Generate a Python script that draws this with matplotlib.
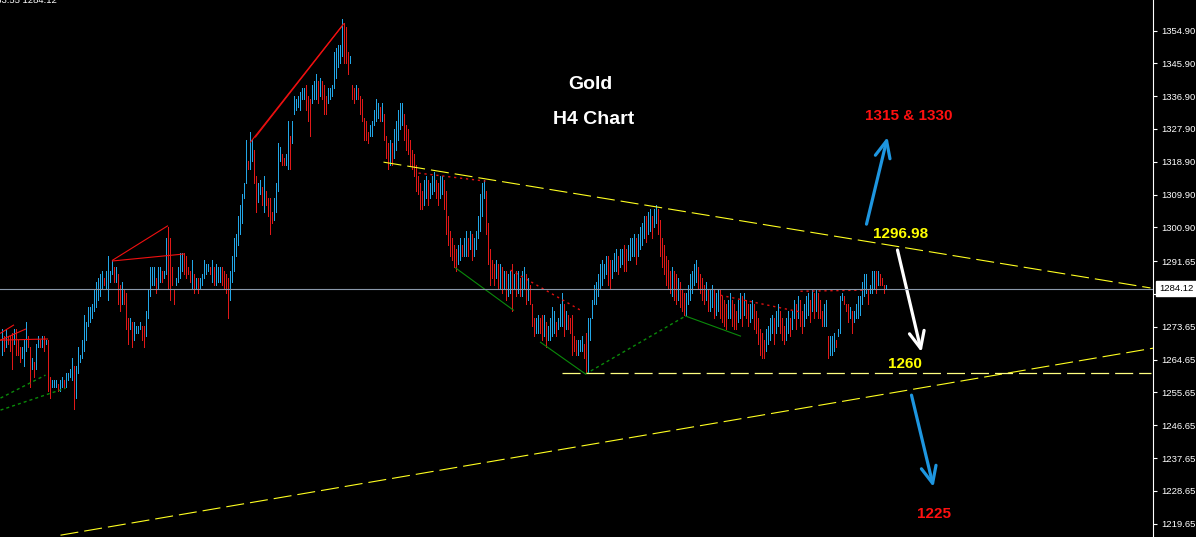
import numpy as np
import matplotlib.pyplot as plt

plt.rcParams['lines.scale_dashes'] = False

# H4 bars, high / low per bar
highs = np.array([
    1273, 1271, 1273, 1271, 1271, 1272, 1273, 1273, 1270, 1268,
    1268, 1270, 1275, 1271, 1268, 1265, 1264, 1269, 1271, 1270,
    1271, 1271, 1270, 1270, 1260, 1259, 1259, 1259, 1258, 1259,
    1260, 1259, 1261, 1261, 1262, 1265, 1263, 1263, 1268, 1266,
    1270, 1277, 1275, 1279, 1279, 1280, 1284, 1286, 1287, 1288,
    1289, 1287, 1289, 1293, 1289, 1292, 1290, 1290, 1288, 1285,
    1286, 1284, 1283, 1276, 1276, 1275, 1275, 1274, 1274, 1275,
    1274, 1274, 1278, 1284, 1290, 1290, 1290, 1287, 1290, 1290,
    1289, 1289, 1298, 1301, 1298, 1290, 1284, 1287, 1290, 1294,
    1294, 1294, 1293, 1290, 1289, 1292, 1288, 1287, 1287, 1287,
    1288, 1292, 1291, 1291, 1290, 1292, 1290, 1291, 1290, 1290,
    1290, 1289, 1288, 1287, 1289, 1293, 1298, 1299, 1304, 1307,
    1310, 1313, 1325, 1319, 1327, 1325, 1322, 1315, 1313, 1314,
    1312, 1315, 1311, 1309, 1309, 1305, 1309, 1313, 1324, 1323,
    1321, 1320, 1321, 1330, 1326, 1330, 1337, 1336, 1337, 1338,
    1339, 1339, 1340, 1337, 1336, 1340, 1341, 1343, 1341, 1342,
    1341, 1340, 1337, 1339, 1339, 1340, 1349, 1350, 1351, 1351,
    1358, 1357, 1356, 1349, 1348, 1340, 1339, 1340, 1339, 1337,
    1336, 1331, 1330, 1327, 1329, 1330, 1333, 1336, 1335, 1334,
    1335, 1332, 1326, 1324, 1325, 1324, 1328, 1330, 1333, 1335,
    1335, 1332, 1329, 1328, 1325, 1322, 1321, 1318, 1315, 1313,
    1311, 1314, 1315, 1314, 1313, 1315, 1316, 1314, 1313, 1315,
    1315, 1314, 1311, 1304, 1300, 1298, 1296, 1295, 1296, 1298,
    1296, 1298, 1300, 1298, 1300, 1299, 1298, 1300, 1304, 1310,
    1313, 1314, 1311, 1302, 1295, 1292, 1291, 1292, 1291, 1291,
    1290, 1289, 1289, 1288, 1289, 1291, 1288, 1289, 1289, 1287,
    1289, 1290, 1288, 1287, 1285, 1280, 1276, 1276, 1277, 1276,
    1277, 1277, 1275, 1274, 1276, 1279, 1278, 1275, 1276, 1280,
    1283, 1280, 1278, 1277, 1276, 1277, 1271, 1270, 1270, 1270,
    1271, 1269, 1272, 1276, 1276, 1281, 1285, 1286, 1288, 1291,
    1292, 1291, 1293, 1293, 1292, 1292, 1294, 1295, 1293, 1295,
    1295, 1296, 1295, 1296, 1298, 1298, 1299, 1298, 1299, 1301,
    1302, 1304, 1304, 1305, 1306, 1304, 1306, 1307, 1306, 1303,
    1298, 1296, 1293, 1292, 1289, 1290, 1289, 1288, 1287, 1286,
    1284, 1283, 1283, 1285, 1288, 1289, 1291, 1292, 1290, 1288,
    1287, 1285, 1286, 1284, 1284, 1285, 1284, 1283, 1284, 1284,
    1282, 1281, 1280, 1281, 1283, 1281, 1280, 1278, 1281, 1283,
    1282, 1283, 1281, 1280, 1280, 1281, 1280, 1278, 1276, 1273,
    1272, 1270, 1273, 1274, 1276, 1277, 1276, 1278, 1280, 1278,
    1276, 1274, 1276, 1278, 1276, 1278, 1281, 1280, 1282, 1281,
    1278, 1280, 1282, 1283, 1281, 1284, 1283, 1284, 1283, 1281,
    1278, 1280, 1281, 1271, 1271, 1271, 1272, 1270, 1273, 1282,
    1283, 1282, 1280, 1280, 1279, 1278, 1278, 1280, 1282, 1282,
    1286, 1288, 1288, 1284, 1285, 1289, 1289, 1289, 1289, 1288,
    1287, 1285, 1285])

lows = np.array([
    1266, 1267, 1268, 1269, 1267, 1262, 1269, 1266, 1266, 1264,
    1265, 1263, 1267, 1268, 1257, 1262, 1260, 1262, 1268, 1268,
    1268, 1267, 1269, 1256, 1254, 1257, 1257, 1257, 1256, 1256,
    1257, 1257, 1257, 1259, 1260, 1259, 1251, 1254, 1261, 1264,
    1265, 1267, 1270, 1274, 1275, 1276, 1278, 1279, 1281, 1282,
    1284, 1285, 1284, 1281, 1286, 1288, 1286, 1286, 1280, 1278,
    1280, 1280, 1273, 1269, 1273, 1268, 1270, 1272, 1272, 1273,
    1270, 1268, 1271, 1276, 1282, 1285, 1285, 1283, 1284, 1286,
    1286, 1287, 1288, 1284, 1281, 1285, 1280, 1285, 1286, 1287,
    1289, 1288, 1287, 1288, 1286, 1284, 1283, 1284, 1283, 1284,
    1285, 1287, 1288, 1289, 1288, 1286, 1285, 1285, 1286, 1286,
    1285, 1284, 1283, 1276, 1281, 1286, 1289, 1293, 1296, 1299,
    1302, 1309, 1313, 1317, 1317, 1319, 1313, 1305, 1308, 1310,
    1307, 1305, 1307, 1304, 1299, 1302, 1303, 1305, 1311, 1319,
    1318, 1318, 1318, 1317, 1317, 1324, 1332, 1333, 1334, 1333,
    1336, 1336, 1333, 1330, 1326, 1335, 1336, 1336, 1335, 1337,
    1336, 1332, 1332, 1335, 1336, 1337, 1339, 1342, 1345, 1346,
    1348, 1346, 1346, 1343, 1346, 1336, 1335, 1336, 1336, 1332,
    1330, 1325, 1325, 1324, 1326, 1326, 1329, 1330, 1331, 1330,
    1330, 1325, 1320, 1317, 1318, 1318, 1320, 1322, 1325, 1328,
    1329, 1325, 1322, 1321, 1318, 1317, 1315, 1311, 1310, 1306,
    1306, 1307, 1309, 1307, 1309, 1310, 1311, 1309, 1307, 1309,
    1310, 1306, 1299, 1296, 1293, 1292, 1290, 1289, 1291, 1292,
    1293, 1293, 1293, 1293, 1295, 1292, 1293, 1295, 1298, 1300,
    1304, 1309, 1299, 1291, 1285, 1287, 1285, 1287, 1284, 1284,
    1283, 1284, 1281, 1282, 1283, 1278, 1284, 1282, 1283, 1282,
    1282, 1284, 1280, 1281, 1280, 1274, 1271, 1272, 1272, 1272,
    1270, 1271, 1268, 1270, 1270, 1271, 1272, 1271, 1273, 1274,
    1274, 1271, 1273, 1273, 1272, 1266, 1267, 1266, 1266, 1267,
    1267, 1265, 1261, 1261, 1270, 1276, 1280, 1280, 1282, 1284,
    1285, 1287, 1288, 1285, 1284, 1287, 1289, 1289, 1288, 1290,
    1291, 1289, 1289, 1292, 1292, 1293, 1293, 1291, 1293, 1295,
    1296, 1298, 1297, 1299, 1300, 1298, 1301, 1302, 1299, 1293,
    1290, 1288, 1285, 1284, 1283, 1282, 1281, 1280, 1281, 1279,
    1278, 1277, 1277, 1280, 1281, 1283, 1285, 1286, 1284, 1283,
    1281, 1280, 1281, 1278, 1278, 1279, 1276, 1277, 1278, 1276,
    1275, 1274, 1273, 1276, 1276, 1274, 1273, 1273, 1275, 1276,
    1274, 1277, 1276, 1274, 1275, 1276, 1273, 1272, 1269, 1266,
    1265, 1265, 1267, 1269, 1270, 1272, 1269, 1272, 1274, 1272,
    1270, 1269, 1270, 1272, 1271, 1273, 1276, 1273, 1276, 1274,
    1272, 1274, 1276, 1277, 1275, 1278, 1276, 1278, 1276, 1276,
    1274, 1274, 1274, 1265, 1266, 1266, 1267, 1268, 1271, 1272,
    1281, 1280, 1278, 1275, 1276, 1272, 1275, 1276, 1276, 1277,
    1280, 1282, 1283, 1280, 1283, 1283, 1284, 1283, 1285, 1285,
    1285, 1283, 1284])

last_price = 1284.12
level_1260 = 1261.0
price_ticks = [1354.90, 1345.90, 1336.90, 1327.90, 1318.90, 1309.90, 1300.90,
               1291.65, 1282.65, 1273.65, 1264.65, 1255.65, 1246.65, 1237.65,
               1228.65, 1219.65]

# trendlines (bar index, price)
upper_trend = ([191, 574.5], [1318.8, 1284.3])
lower_trend = ([29.5, 576], [1216.5, 1267.8])
support_span = [280, 574.5]

red_solid = [([124.5, 171], [1324.3, 1356.7]), ([127, 170], [1325.7, 1355.9]),
             ([55.5, 83], [1291.9, 1301.3]), ([55.5, 91], [1291.7, 1293.6]),
             ([-0.5, 6], [1271.9, 1274.1]), ([-0.5, 12], [1270.0, 1273.0]),
             ([-0.5, 23], [1270.0, 1270.3])]
red_dotted = [([208.5, 242], [1315.8, 1313.6]), ([254.5, 289.5], [1289.2, 1278.2]),
              ([359.5, 399.5], [1282.3, 1277.7]), ([399.5, 430.5], [1283.4, 1283.7])]
green_solid = [([227, 256], [1289.8, 1278.2]), ([269.5, 292], [1269.4, 1260.7]),
               ([342, 369.5], [1276.6, 1271.1])]
green_dotted = [([292, 342], [1260.7, 1276.6]), ([-0.5, 22], [1254.1, 1260.4]),
                ([-0.5, 32], [1250.8, 1256.8])]

n = min(len(highs), len(lows))
highs, lows = highs[:n], lows[:n]
idx = np.arange(n)
mid = (highs + lows) / 2
up = np.concatenate([[True], mid[1:] >= mid[:-1]])
bar_colors = np.where(up, '#22a6e6', '#e01818')

fig = plt.figure(figsize=(11.96, 5.37), dpi=100, facecolor='black')
ax = fig.add_axes([0, 0, 1153 / 1196, 1])
ax.set_facecolor('black')

ax.vlines(idx, lows, highs, colors=bar_colors, linewidth=0.6, antialiased=False, zorder=2)

for xs, ys in red_solid:
    ax.plot(xs, ys, color='#f01010', lw=0.8, zorder=3)
for xs, ys in red_dotted:
    ax.plot(xs, ys, color='#e01010', lw=1.0, dashes=(1.6, 2.7), zorder=3)
for xs, ys in green_solid:
    ax.plot(xs, ys, color='#0a8a0a', lw=0.8, zorder=3)
for xs, ys in green_dotted:
    ax.plot(xs, ys, color='#0a8a0a', lw=1.0, dashes=(2.2, 2.2), zorder=3)

ax.axhline(last_price, color='#8a98aa', lw=0.8, zorder=4)

yellow = '#ffff20'
ax.plot(*upper_trend, color=yellow, lw=0.8, dashes=(13, 4.3), zorder=4)
ax.plot(*lower_trend, color=yellow, lw=0.8, dashes=(13, 4.3), zorder=4)
ax.plot(support_span, [level_1260, level_1260], color='#ffff80', lw=0.9,
        dashes=(13, 4.3), zorder=4)

# labels and arrows
bold = dict(family='Liberation Sans', fontweight='bold', ha='center', va='center')
ax.text(294.5, 1340.0, 'Gold', color='white', fontsize=14, **bold)
ax.text(296, 1330.6, 'H4 Chart', color='white', fontsize=14, **bold)
ax.text(453.5, 1331.4, '1315 & 1330', color='#ff1010', fontsize=11, **bold)
ax.text(449.5, 1299.1, '1296.98', color='#ffff00', fontsize=11, **bold)
ax.text(451.5, 1263.4, '1260', color='#ffff00', fontsize=11, **bold)
ax.text(466, 1222.3, '1225', color='#ff1010', fontsize=11, **bold)

arrow = dict(arrowstyle='->,head_length=1.0,head_width=0.45', lw=2.3,
             shrinkA=0, shrinkB=0, mutation_scale=12)
ax.annotate('', xy=(443, 1325.7), xytext=(432.5, 1301.8),
            arrowprops=dict(color='#1e96e0', **arrow))
ax.annotate('', xy=(460, 1266.7), xytext=(448, 1294.7),
            arrowprops=dict(color='white', **arrow))
ax.annotate('', xy=(466, 1229.7), xytext=(455, 1254.9),
            arrowprops=dict(color='#1e96e0', **arrow))

ax.text(0.0494, 0.9944, 'XAUUSD,H4  1284.59 1284.71 1283.55 1284.12',
        transform=ax.transAxes, ha='right', va='baseline', color='white',
        fontsize=6.8, family='Liberation Sans')

# price axis on the right
ax.set_xlim(-0.75, 575.75)
ax.set_ylim(1216.0, 1363.27)
ax.set_xticks([])
ax.yaxis.tick_right()
ax.set_yticks(price_ticks)
ax.set_yticklabels([f'{p:.2f}' for p in price_ticks], family='Liberation Sans')
ax.tick_params(axis='y', colors='white', length=3, width=0.8, pad=3, labelsize=6.8)
for side in ['top', 'left', 'bottom']:
    ax.spines[side].set_visible(False)
ax.spines['right'].set_color('white')
ax.spines['right'].set_linewidth(0.8)

ax.text(1.0052, last_price, f'{last_price:.2f}', transform=ax.get_yaxis_transform(),
        ha='left', va='center', fontsize=6.8, color='black', family='Liberation Sans',
        bbox=dict(boxstyle='square,pad=0.3', facecolor='white', edgecolor='white'),
        clip_on=False, zorder=10)

fig.savefig('out.png', dpi=100, facecolor='black')
